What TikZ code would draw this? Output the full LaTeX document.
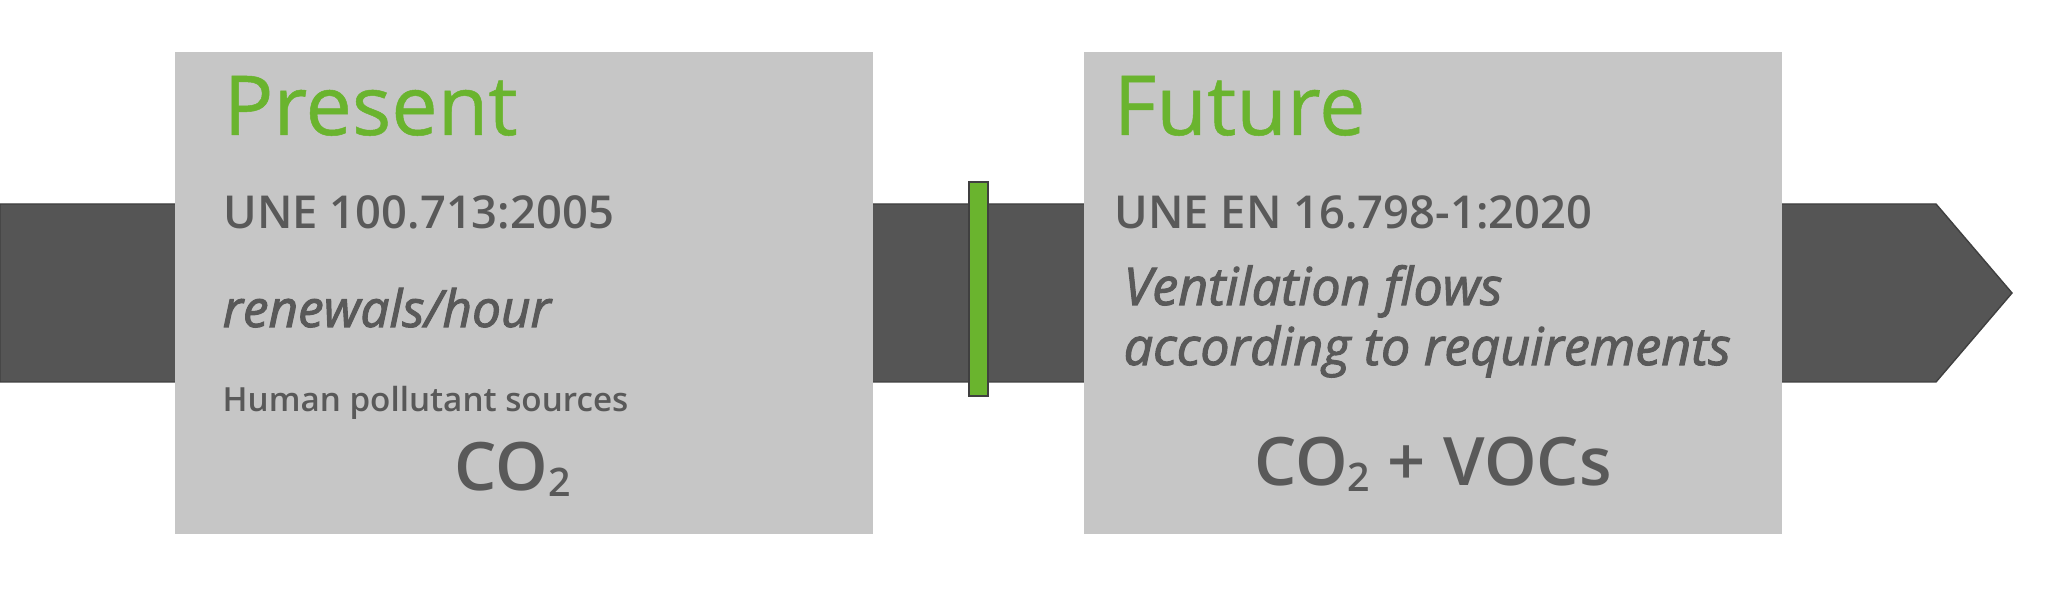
\documentclass[tikz,border=0pt]{standalone}
\usepackage{fontspec}
\usepackage{tikz}
\usetikzlibrary{positioning}
\setmainfont{Open Sans}
\IfFontExistsTF{Open Sans SemiBold}
  {\newfontfamily\semifont{Open Sans SemiBold}}
  {\IfFontExistsTF{Open Sans Semibold}
    {\newfontfamily\semifont{Open Sans Semibold}}
    {\newfontfamily\semifont{Open Sans}[FakeBold=2]}}
\IfFontExistsTF{Open Sans SemiBold Italic}
  {\newfontfamily\semiitfont{Open Sans SemiBold Italic}}
  {\newfontfamily\semiitfont{Open Sans Italic}[FakeBold=2]}
\newfontfamily\titlefont{Open Sans}[FakeBold=0.6]
\definecolor{leafgreen}{HTML}{6AB42E}
\definecolor{bandgray}{HTML}{555555}
\definecolor{panelgray}{HTML}{C6C6C6}
\definecolor{textgray}{HTML}{595959}
\newcommand{\cotwo}{CO\raisebox{-1.7pt}{\fontsize{11.2}{12}\selectfont 2}}
\tikzset{
    band/.style={fill=bandgray, draw=black!75, line width=0.4pt}, % the time line
    panel/.style={fill=panelgray, minimum width=6.98cm, minimum height=4.82cm, inner sep=0pt}, % grey boxes
    marker/.style={fill=leafgreen, draw=black!75, line width=0.4pt, minimum width=0.19cm, minimum height=2.14cm, inner sep=0pt}, % the green tick
    heading/.style={anchor=base west, inner sep=0pt, text=leafgreen, font=\titlefont\fontsize{23.5}{28}\selectfont}, % Present / Future
    normtext/.style={anchor=base west, inner sep=0pt, text=textgray, font=\semifont\fontsize{12.9}{16}\selectfont}, % standards
    ittext/.style={anchor=base west, inner sep=0pt, text=textgray, font=\semiitfont\fontsize{14.6}{17}\selectfont},
    bigittext/.style={anchor=base west, inner sep=0pt, text=textgray, font=\semiitfont\fontsize{14.8}{18}\selectfont},
    smalltext/.style={anchor=base west, inner sep=0pt, text=textgray, font=\semifont\fontsize{9.45}{12}\selectfont},
    gas/.style={anchor=base, inner sep=0pt, text=textgray, font=\semifont\fontsize{19}{22}\selectfont}, % pollutants
}
\begin{document}
\begin{tikzpicture}[x=0.01cm, y=-0.01cm]
    \useasboundingbox (0,0) rectangle (2048,592);
    \draw[band] (0,204) -- (1936,204) -- (2012,293) -- (1936,382) -- (0,382) -- cycle;
    \node[panel] (present) at (524,293) {};
    \node[panel] (future) at (1433,293) {};
    \node[marker] (now) at (978.5,289) {};
    % present
    \node[heading] (pt) at (223,135) {Present};
    \node[normtext] (pn) at (223,229) {UNE 100.713:2005};
    \node[ittext] (pu) at (222,327) {renewals/hour};
    \node[smalltext] (ps) at (222,412) {Human pollutant sources};
    \node[gas] (pg) at (513,491) {\cotwo};
    % future
    \node[heading] (ft) at (1113,135) {Future};
    \node[normtext] (fn) at (1114,229) {UNE EN 16.798-1:2020};
    \node[bigittext] (fu) at (1123,305) {Ventilation flows};
    \node[bigittext] (fv) at (1123,365) {according to requirements};
    \node[gas] (fg) at (1433,486) {\cotwo{} + VOCs};
\end{tikzpicture}
\end{document}
